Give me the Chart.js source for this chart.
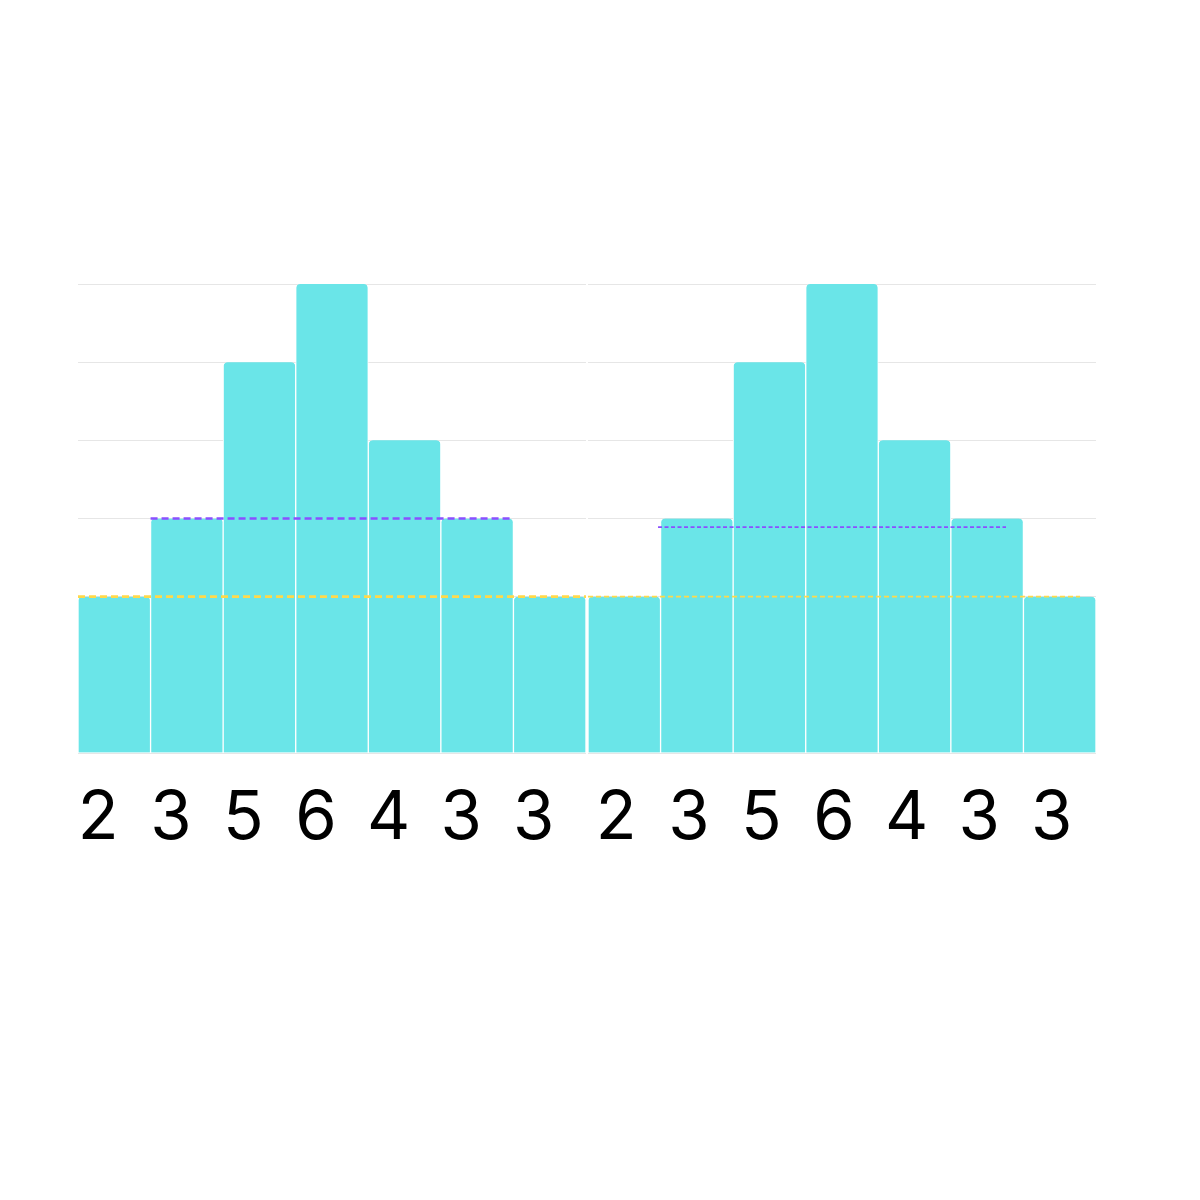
<!DOCTYPE html>
<html>
<head>
<meta charset="utf-8">
<script src="https://cdn.jsdelivr.net/npm/chart.js@4/dist/chart.umd.min.js"></script>
<style>
  html, body { margin: 0; padding: 0; background: #fff; }
  body { width: 1200px; height: 1200px; position: relative; overflow: hidden; }
  .box { position: absolute; top: 284px; width: 508px; height: 600px; }
  #left { left: 78px; }
  #right { left: 588px; }
</style>
</head>
<body>
<div class="box" id="left"><canvas id="chartLeft"></canvas></div>
<div class="box" id="right"><canvas id="chartRight"></canvas></div>
<script>
const labelsLeft = ['2', '3', '5', '6', '4', '3', '3'];
const valuesLeft = [2, 3, 5, 6, 4, 3, 2];
const labelsRight = ['2', '3', '5', '6', '4', '3', '3'];
const valuesRight = [2, 3, 5, 6, 4, 3, 2];

// guide lines: [from, to] in bar units, and the level
const purpleLeft = { span: [1, 6], level: 3 };
const yellowLeft = { span: [0, 7], level: 2 };
const purpleRight = { span: [0.965, 5.76], level: 2.89 };
const yellowRight = { span: [0, 6.78], level: 2 };

const yTicks = [0, 1, 2, 3, 4, 5, 6];

const CYAN = '#6ae5e8';
const PURPLE = '#8a4fff';
const YELLOW = '#ffd94a';

function guide(g, color, width, dash) {
  return {
    type: 'line',
    xAxisID: 'x2',
    data: g.span.map(x => ({ x: x, y: g.level })),
    borderColor: color,
    borderWidth: width,
    borderDash: dash,
    pointRadius: 0,
    fill: false,
    clip: false,
    order: 1
  };
}

function makeChart(id, labels, values, purple, yellow, thick, offset) {
  const ctx = document.getElementById(id);
  new Chart(ctx, {
    type: 'bar',
    data: {
      labels: labels,
      datasets: [
        guide(purple, PURPLE, thick ? 2.7 : 1.6, thick ? [7, 4] : [4, 2.5]),
        guide(yellow, YELLOW, thick ? 2.7 : 1.6, thick ? [7, 4] : [5, 3]),
        {
          data: values,
          backgroundColor: CYAN,
          borderColor: '#ffffff',
          borderWidth: { left: 1, right: 1, top: 0, bottom: 0 },
          borderRadius: { topLeft: 5, topRight: 5, bottomLeft: 0, bottomRight: 0 },
          borderSkipped: 'bottom',
          barPercentage: 1,
          categoryPercentage: 1,
          grouped: false,
          order: 2
        }
      ]
    },
    options: {
      responsive: true,
      maintainAspectRatio: false,
      animation: false,
      layout: { padding: 0 },
      plugins: { legend: { display: false }, tooltip: { enabled: false } },
      scales: {
        x: {
          grid: { display: false },
          border: { display: false },
          ticks: {
            color: '#000',
            font: { family: 'Inter', size: 67 },
            padding: 18,
            labelOffset: offset,
            maxRotation: 0,
            autoSkip: false
          },
          afterFit: s => { s.height = 131; s.paddingLeft = 0; s.paddingRight = 0; }
        },
        x2: {
          type: 'linear',
          display: false,
          offset: false,
          min: 0,
          max: labels.length
        },
        y: {
          min: 0,
          max: yTicks[yTicks.length - 1],
          afterBuildTicks: s => { s.ticks = yTicks.map(v => ({ value: v })); },
          grid: { color: '#e6e6e6', drawTicks: false },
          border: { display: false },
          ticks: { display: false },
          afterFit: s => { s.width = 0; }
        }
      }
    }
  });
}

makeChart('chartLeft', labelsLeft, valuesLeft, purpleLeft, yellowLeft, true, -16);
makeChart('chartRight', labelsRight, valuesRight, purpleRight, yellowRight, false, -8);
</script>
</body>
</html>
